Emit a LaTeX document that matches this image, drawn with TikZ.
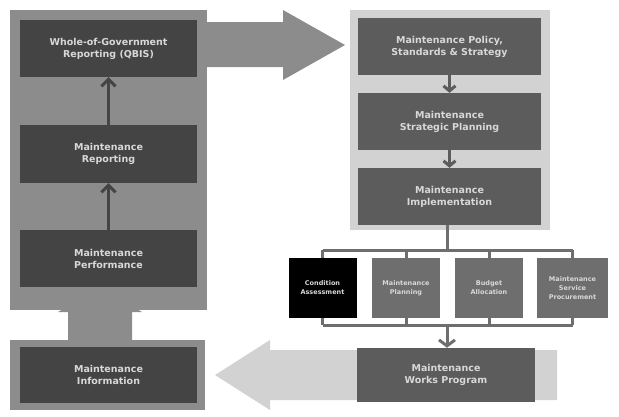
\documentclass[tikz,border=0pt]{standalone}
\usepackage{fontspec}
\setmainfont{DejaVu Sans}
\usetikzlibrary{arrows.meta}
\definecolor{panel}{HTML}{8C8C8C}
\definecolor{pale}{HTML}{D2D2D2}
\definecolor{dark}{HTML}{444444}
\definecolor{mid}{HTML}{5C5C5C}
\definecolor{step}{HTML}{6E6E6E}
\definecolor{ink}{HTML}{D8D8D8}
\begin{document}
\begin{tikzpicture}[x=1pt,y=-1pt,
    box/.style={fill=dark, text=ink, font=\bfseries\fontsize{9.5}{12}\selectfont,
        align=center, inner sep=0pt},
    small/.style={fill=step, text=ink, font=\bfseries\fontsize{6.5}{9}\selectfont,
        align=center, inner sep=0pt, minimum width=68pt, minimum height=60pt},
    bus/.style={draw=step, line width=3pt},
    up/.style={draw=dark, line width=3pt, -{Straight Barb[length=7pt,width=14pt]}}]
    \useasboundingbox (0,0) rectangle (619,416);

    % Panels and big arrows
    \fill[panel] (10,10) rectangle (207,310);
    \fill[pale] (350,10) rectangle (550,230);
    \fill[panel] (207,22) -- (283,22) -- (283,10) -- (345,45) -- (283,80) -- (283,67) -- (207,67) -- cycle;
    \fill[pale] (557,350) -- (270,350) -- (270,340) -- (215,375) -- (270,410) -- (270,400) -- (557,400) -- cycle;
    \fill[panel] (10,340) rectangle (205,410);
    \fill[panel] (68,340) -- (68,312) -- (58,312) -- (100,288) -- (142,312) -- (132,312) -- (132,340) -- cycle;

    % Left column
    \node[box, minimum width=177pt, minimum height=57pt] (wog) at (108.5,48.5) {Whole-of-Government\\Reporting (QBIS)};
    \node[box, minimum width=177pt, minimum height=58pt] (rep) at (108.5,154) {Maintenance\\Reporting};
    \node[box, minimum width=177pt, minimum height=57pt] (perf) at (108.5,258.5) {Maintenance\\Performance};
    \node[box, minimum width=177pt, minimum height=56pt] (info) at (108.5,375) {Maintenance\\Information};
    \draw[up] (rep.north) -- (wog.south);
    \draw[up] (perf.north) -- (rep.south);

    % Right column
    \node[box, fill=mid, minimum width=183pt, minimum height=57pt] (policy) at (449.5,46.5) {Maintenance Policy,\\Standards \& Strategy};
    \node[box, fill=mid, minimum width=183pt, minimum height=57pt] (plan) at (449.5,121.5) {Maintenance\\Strategic Planning};
    \node[box, fill=mid, minimum width=183pt, minimum height=57pt] (impl) at (449.5,196.5) {Maintenance\\Implementation};
    \draw[up, draw=mid, {Straight Barb[length=5pt,width=12pt]}-] (plan.north) -- (policy.south);
    \draw[up, draw=mid, {Straight Barb[length=5pt,width=12pt]}-] (impl.north) -- (plan.south);

    % Steps
    \node[small, fill=black] (cond) at (322.5,288) {Condition\\Assessment};
    \node[small] (mplan) at (406,288) {Maintenance\\Planning};
    \node[small] (budget) at (489,288) {Budget\\Allocation};
    \node[small, minimum width=71pt] (proc) at (572.5,288) {Maintenance\\Service\\Procurement};
    \node[box, fill=mid, minimum width=178pt, minimum height=54pt] (works) at (446,375) {Maintenance\\Works Program};

    % Bus lines
    \coordinate (top) at (447,250);
    \coordinate (low) at (447,325);
    \draw[bus] (impl.south -| top) -- (top);
    \draw[bus] (cond.north |- top) -- (proc.north |- top);
    \foreach \s in {cond,mplan,budget,proc} {
        \draw[bus] (\s.north |- top) -- (\s.north);
        \draw[bus] (\s.south) -- (\s.south |- low);
    }
    \draw[bus] (cond.south |- low) -- (proc.south |- low);
    \draw[bus, -{Straight Barb[length=6pt,width=16pt]}] (low) -- (works.north -| low);
\end{tikzpicture}
\end{document}
